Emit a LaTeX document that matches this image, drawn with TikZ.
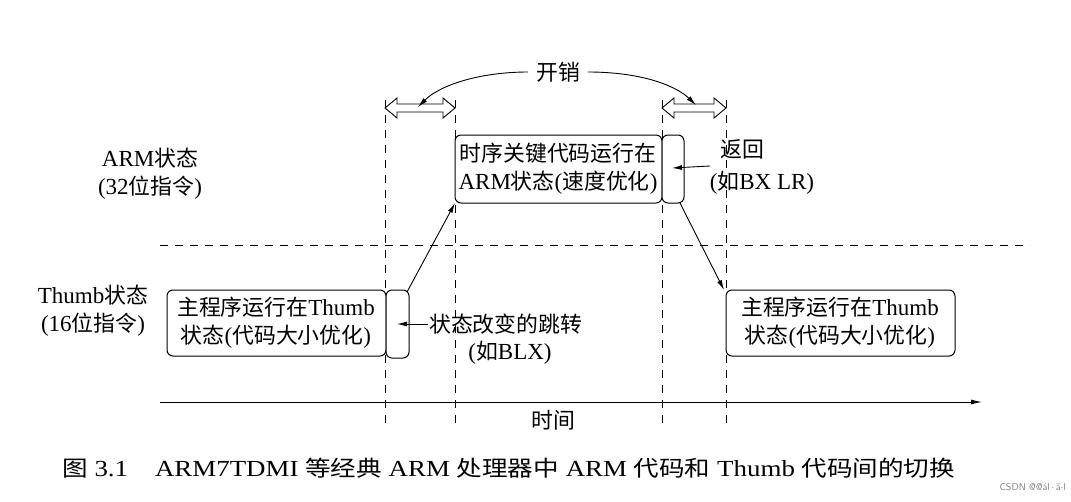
\documentclass[tikz,border=0pt]{standalone}
\usepackage{fontspec}
\setmainfont{Liberation Serif}
\newfontfamily\cjk{Noto Sans CJK SC}[Scale=0.95]
\usetikzlibrary{arrows.meta}
\tikzset{
 lbl/.style={font=\fontsize{23}{28}\selectfont, inner sep=0pt, align=center},
 rbox/.style={draw, line width=1pt, rounded corners=6pt},
 vdash/.style={dashed, dash pattern=on 8pt off 7pt, line width=0.8pt},
 arr/.style={line width=0.9pt, -{Latex[length=10pt,width=5pt]}},
 dbl/.style={draw, line width=0.9pt, fill=white}
}
\begin{document}
\begin{tikzpicture}[x=1pt,y=-1pt]
\useasboundingbox (0,0) rectangle (1071,501);
% dashed verticals
\foreach \x in {385,455,662,726} \draw[vdash] (\x,100) -- (\x,425);
\draw[vdash] (160,245) -- (1030,245);
% time axis
\coordinate (t0) at (160,402); \coordinate (t1) at (982,402);
\draw[line width=1pt,-{Latex[length=11pt,width=5pt]}] (t0) -- (t1);
\node[lbl] (time) at (553,420) {\cjk 时间};
% state labels
\node[lbl] (arm) at (150,158) {ARM\cjk 状态};
\node[lbl] (arm2) at (150,188) {(32\cjk 位指令\rmfamily)};
\node[lbl] (th) at (93,295) {Thumb\cjk 状态};
\node[lbl] (th2) at (93,325) {(16\cjk 位指令\rmfamily)};
% boxes
\draw[rbox,fill=white] (167,290) rectangle (386,356);
\node[lbl] (b1) at (276,323) {{\cjk 主程序运行在}Thumb\\{\cjk 状态}({\cjk 代码大小优化})};
\draw[rbox,fill=white] (386,290) rectangle (409,358);
\coordinate (s1) at (397,324);
\draw[rbox,fill=white] (455,135) rectangle (662,203);
\node[lbl] (b2) at (558,169) {{\cjk 时序关键代码运行在}\\ARM{\cjk 状态}({\cjk 速度优化})};
\draw[rbox,fill=white] (662,135) rectangle (684,203);
\coordinate (s2) at (672,168);
\draw[rbox,fill=white] (726,290) rectangle (955,356);
\node[lbl] (b3) at (840,323) {{\cjk 主程序运行在}Thumb\\{\cjk 状态}({\cjk 代码大小优化})};
% transitions
\coordinate (a1s) at (407,292); \coordinate (a1e) at (455,203);
\draw[arr] (a1s) -- (a1e);
\coordinate (a2s) at (680,203); \coordinate (a2e) at (724,290);
\draw[arr] (a2s) -- (a2e);
% labels with arrows
\node[lbl,anchor=west] (ret) at (720,149) {\cjk 返回};
\node[lbl] (ret2) at (762,183) {({\cjk 如}BX LR)};
\coordinate (r0) at (710,166);
\draw[arr] (r0) -- (s2);
\node[lbl,anchor=west] (sw) at (429,324) {\cjk 状态改变的跳转};
\node[lbl] (sw2) at (510,353) {({\cjk 如}BLX)};
\coordinate (w0) at (428,324);
\draw[arr] (w0) -- (s1);
% overhead double arrows
\foreach \a in {385,662}{
 \pgfmathsetmacro{\b}{\a+(\a==385?70:64)}
 \draw[dbl] (\a,108) -- (\a+12,98) -- (\a+12,104) -- (\b-12,104) -- (\b-12,98) -- (\b,108) -- (\b-12,118) -- (\b-12,112) -- (\a+12,112) -- (\a+12,118) -- cycle;
}
\node[lbl] (ov) at (558,72) {\cjk 开销};
\coordinate (c1) at (418,107); \coordinate (c2) at (696,105);
\draw[arr] (ov.west) ++(-8,0) .. controls (480,72) and (440,85) .. (c1);
\draw[arr] (ov.east) ++(8,0) .. controls (640,72) and (675,85) .. (c2);
% caption
\node[lbl,anchor=west,font=\fontsize{23}{26}\selectfont,xscale=1.17,transform shape] (cap) at (62,468) {{\cjk 图}\ 3.1\quad ARM7TDMI\ {\cjk 等经典}\ ARM\ {\cjk 处理器中}\ ARM\ {\cjk 代码和}\ Thumb\ {\cjk 代码间的切换}};
\node[lbl,anchor=east,font=\fontsize{10}{11}\selectfont\sffamily,text=gray] (wm) at (1066,487) {CSDN @@\'al\,$\cdot$\,\=a$\cdot$l};
\end{tikzpicture}
\end{document}
